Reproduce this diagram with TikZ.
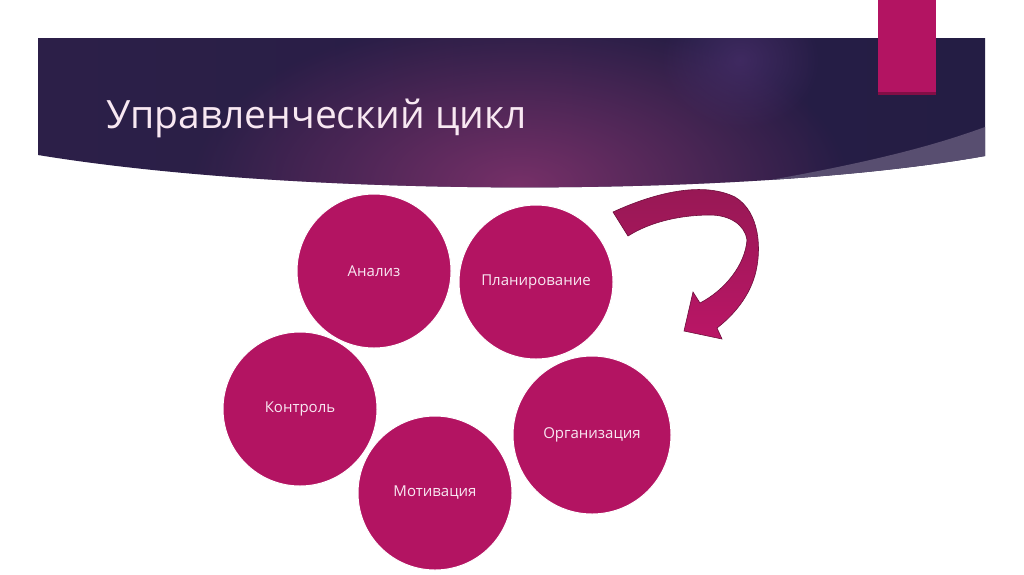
\documentclass[tikz,border=0pt]{standalone}
\usepackage{fontspec}
\setmainfont{Open Sans}
\usetikzlibrary{fadings,calc}
\definecolor{bandL}{RGB}{44,31,72}
\definecolor{bandM}{RGB}{96,42,94}
\definecolor{bandR}{RGB}{36,29,68}
\definecolor{glowc}{RGB}{118,48,104}
\definecolor{glowb}{RGB}{80,50,115}
\definecolor{swoosh}{RGB}{88,78,112}
\definecolor{magc}{RGB}{179,20,98}
\definecolor{tabshadow}{RGB}{130,14,70}
\definecolor{arrowA}{RGB}{150,24,84}
\definecolor{arrowB}{RGB}{186,22,102}
\definecolor{arrowE}{RGB}{110,14,60}
\definecolor{txtc}{RGB}{248,232,242}
\tikzfading[name=glowfade, inner color=transparent!0, outer color=transparent!100]
\begin{document}
\begin{tikzpicture}[x=1pt,y=-1pt,
  circ/.style={circle, fill=magc, draw=white, line width=1pt, minimum size=154pt, inner sep=0pt,
    text=txtc, font=\fontsize{15}{17}\selectfont},
  titletext/.style={text=txtc, font=\fontsize{39}{45}\selectfont, inner sep=0pt, anchor=base west}]
\useasboundingbox (0,0) rectangle (1024,574);
\fill[white] (0,0) rectangle (1024,574);
% header band
\begin{scope}
  \clip (38,38) -- (985,38) -- (985,156) .. controls (750,198) and (300,198) .. (38,155) -- cycle;
  \shade[left color=bandL, middle color=bandM, right color=bandR] (38,38) rectangle (985,200);
  \fill[glowc, path fading=glowfade] (520,185) ellipse (330 and 170);
  \fill[glowb, path fading=glowfade, opacity=0.6] (740,60) ellipse (80 and 70);
  \fill[swoosh] (985,127) .. controls (930,147) and (860,166) .. (700,192) -- (700,260) -- (1000,260) -- (1000,127) -- cycle;
\end{scope}
% magenta tab
\fill[magc] (878,0) rectangle (936,94);
\fill[tabshadow] (878,92) rectangle (936,95);
\node[titletext] (title) at (106,128) {Управленческий цикл};
% circles
\node[circ] (analiz) at (374,271) {Анализ};
\node[circ] (plan) at (536,282) {Планирование};
\node[circ] (kontrol) at (300,409) {Контроль};
\node[circ] (motiv) at (435,493) {Мотивация};
\node[circ, minimum size=158pt] (org) at (592,435) {Организация};
% curved arrow
\shade[top color=arrowA, bottom color=arrowB, draw=arrowE, line width=0.6pt]
  (613,212) .. controls (650,195) and (700,180) .. (735,197)
  .. controls (760,212) and (762,250) .. (755,275)
  .. controls (748,300) and (730,318) .. (717,328)
  -- (722,339) -- (684,331) -- (693,292) -- (700,303)
  .. controls (725,290) and (745,265) .. (747,240)
  .. controls (745,225) and (730,215) .. (710,215)
  .. controls (680,215) and (650,222) .. (628,236) -- cycle;
\end{tikzpicture}
\end{document}
